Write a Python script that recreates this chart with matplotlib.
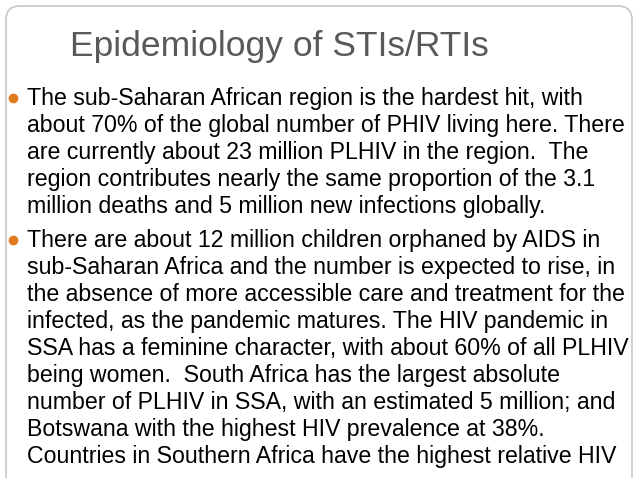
import matplotlib
matplotlib.use("Agg")
import matplotlib.pyplot as plt
from matplotlib.patches import FancyBboxPatch

title = "Epidemiology of STIs/RTIs"
bullet1 = [
    "The sub-Saharan African region is the hardest hit, with",
    "about 70% of the global number of PHIV living here. There",
    "are currently about 23 million PLHIV in the region.  The",
    "region contributes nearly the same proportion of the 3.1",
    "million deaths and 5 million new infections globally.",
]
bullet2 = [
    "There are about 12 million children orphaned by AIDS in",
    "sub-Saharan Africa and the number is expected to rise, in",
    "the absence of more accessible care and treatment for the",
    "infected, as the pandemic matures. The HIV pandemic in",
    "SSA has a feminine character, with about 60% of all PLHIV",
    "being women.  South Africa has the largest absolute",
    "number of PLHIV in SSA, with an estimated 5 million; and",
    "Botswana with the highest HIV prevalence at 38%.",
    "Countries in Southern Africa have the highest relative HIV",
]

W, H = 638, 478
fig = plt.figure(figsize=(W / 100, H / 100), dpi=100)
ax = fig.add_axes([0, 0, 1, 1])
ax.set_xlim(0, W)
ax.set_ylim(H, 0)
ax.axis("off")

frame = FancyBboxPatch((6, 6), W - 12, H + 20, boxstyle="round,pad=0,rounding_size=14",
                       fill=False, edgecolor="#c8c8c8", linewidth=1.2, clip_on=True)
ax.add_patch(frame)

font = "Liberation Sans"
ax.text(70, 46, title, fontsize=25.5, color="#595959", family=font, va="center")

step = 27.1
for block, y0 in ((bullet1, 98), (bullet2, 240)):
    ax.plot(13, y0, "o", color="#e07b22", markersize=6)
    for i, line in enumerate(block):
        ax.text(27, y0 + i * step, line, fontsize=16.7, color="black", family=font, va="center")

fig.savefig("out.png", dpi=100)
